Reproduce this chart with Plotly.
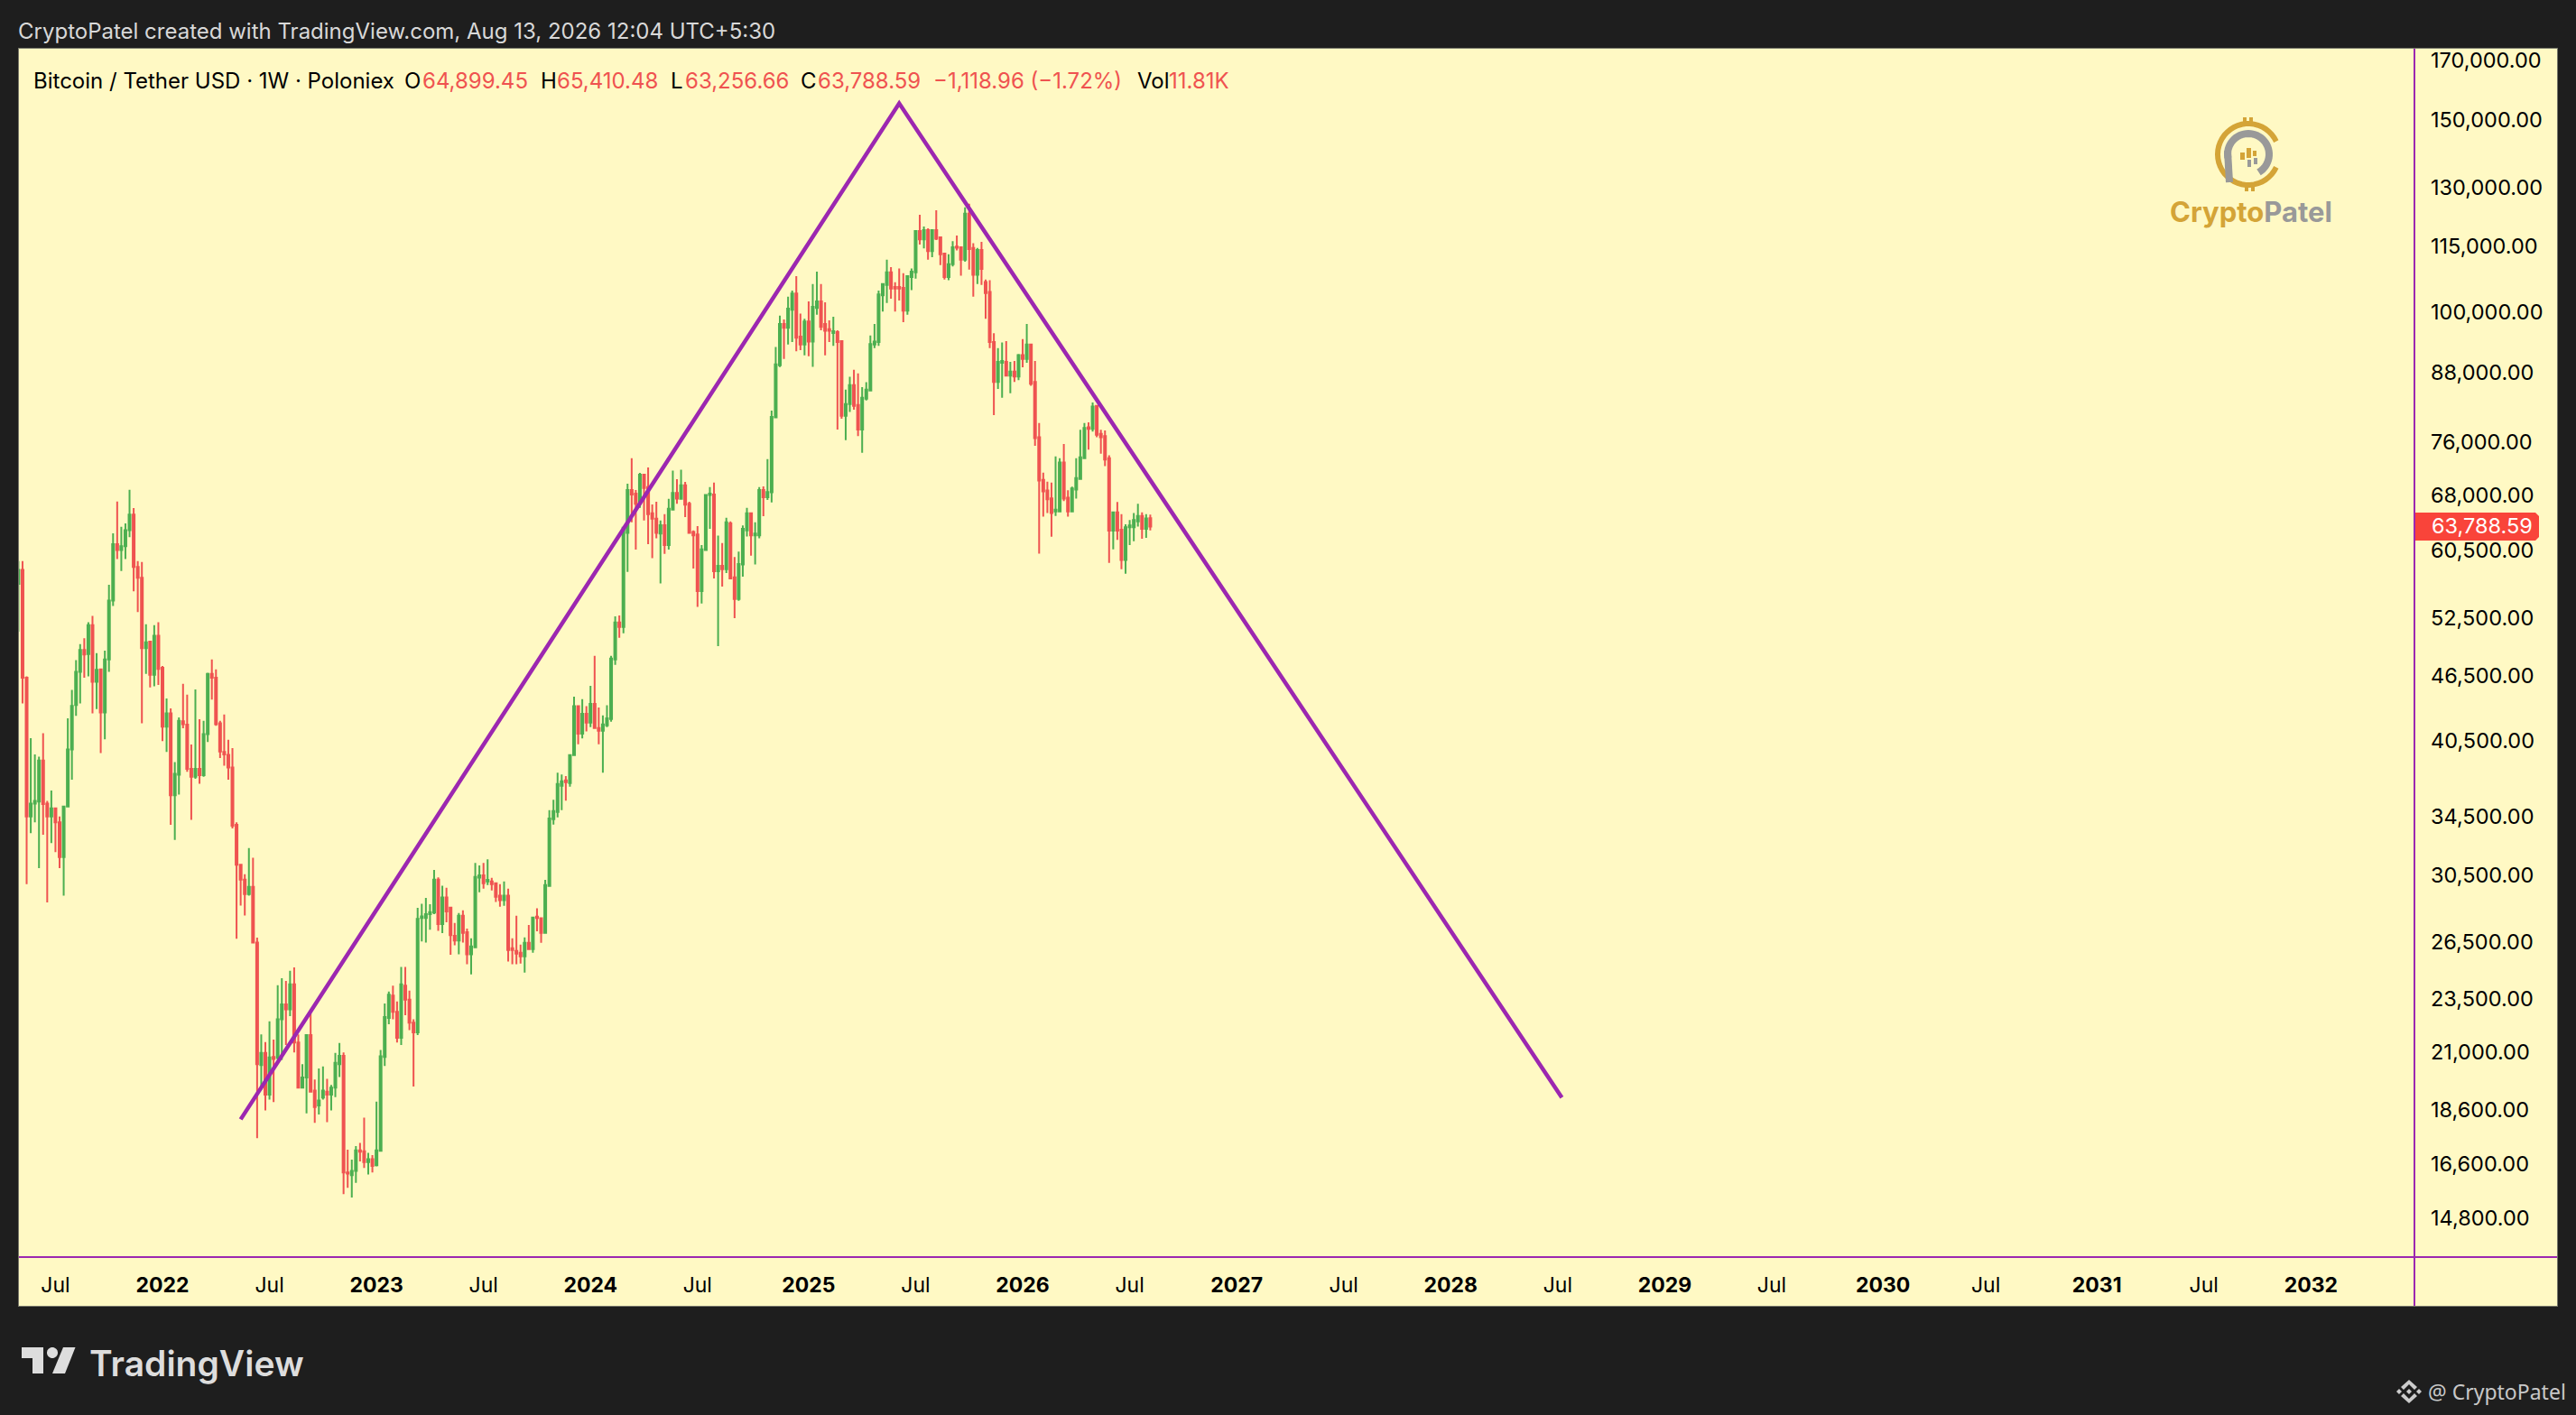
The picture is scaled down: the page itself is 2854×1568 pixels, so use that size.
import math
import numpy as np
import pandas as pd
import plotly.graph_objects as go

# weekly BTCUSDT candles
opens = [
    56540, 58220, 46400, 34670, 35620, 35770, 38990, 35620, 34670, 35260,
    34240, 31830, 35400, 39900, 43820, 46980, 49190, 48780, 51830, 46020,
    47230, 43130, 48220, 54590, 61460, 60700, 61200, 63290, 65410, 58580,
    57260, 49390, 50060, 46690, 50690, 47380, 41860, 43050, 36250, 37840,
    42340, 42040, 38320, 37680, 38320, 37800, 41210, 46790, 46400, 42170,
    39700, 39450, 38430, 34060, 31310, 30350, 29440, 29890, 26580, 20550,
    21080, 19310, 20900, 20860, 22620, 23340, 23100, 24350, 21540, 19590,
    20020, 21880, 19470, 18870, 19190, 19430, 19310, 19590, 20590, 20950,
    16390, 16300, 16450, 17170, 17140, 16750, 16860, 16640, 17160, 20900,
    22690, 23780, 22980, 21760, 24280, 23580, 22460, 22010, 28000, 28000,
    28230, 28320, 30350, 27640, 29230, 28620, 26970, 26700, 28130, 27170,
    25940, 26320, 30480, 30630, 30230, 30230, 30120, 29340, 29060, 29340,
    26270, 26120, 26020, 25830, 26570, 26220, 28080, 27990, 27130, 29950,
    34460, 34990, 36970, 37390, 37180, 39440, 43710, 41250, 43020, 42220,
    43930, 41750, 41510, 41980, 42540, 48220, 52120, 51630, 62950, 68890,
    68370, 66920, 71130, 69290, 65580, 64840, 62840, 63960, 61360, 66080,
    68450, 67600, 69570, 66910, 63070, 62720, 55690, 60700, 68150, 68240,
    58070, 58740, 58300, 64220, 57310, 54760, 58900, 63270, 65580, 62600,
    62600, 68890, 67850, 68540, 80240, 89540, 97680, 96890, 100630, 104140,
    95090, 93550, 98200, 94140, 101000, 102440, 97680, 96600, 95850, 96030,
    94210, 80500, 82540, 85890, 82380, 78230, 83470, 84900, 93550, 94030,
    103740, 106020, 108870, 105600, 105600, 105400, 100440, 107800, 108870, 118770,
    116700, 118970, 113850, 118970, 117200, 113280, 107800, 110750, 114960, 114800,
    111800, 123170, 114600, 108300, 114100, 106680, 104460, 94030, 86450, 90010,
    90180, 87620, 88360, 87440, 91490, 90730, 93550, 86450, 76980, 70360,
    68820, 67670, 65840, 65840, 72990, 67780, 65840, 68950, 70500, 73650,
    78580, 78330, 82230, 77530, 77150, 73650, 63240, 65720, 63350, 59450,
    63700, 63700, 64470, 65220, 63480, 64899.45,
]
highs = [
    59310, 59310, 46550, 40860, 39490, 39300, 41290, 35810, 36600, 35330,
    34670, 35400, 42610, 45230, 48170, 49800, 50420, 52150, 52850, 48880,
    47280, 49140, 56420, 62890, 67220, 63750, 64220, 68900, 66310, 59310,
    59190, 51930, 50110, 51830, 52150, 47580, 44420, 43510, 38870, 42700,
    45820, 44790, 40320, 45280, 42520, 42390, 46890, 48220, 47230, 42390,
    42950, 40740, 40030, 34240, 31310, 30700, 32430, 31780, 26870, 21920,
    21570, 22530, 21680, 24300, 24660, 24530, 25050, 25230, 21920, 20590,
    21880, 22930, 19930, 20400, 20490, 19960, 19710, 21080, 21520, 21100,
    17200, 16840, 17330, 17440, 18400, 17080, 17000, 19030, 21210, 23390,
    23980, 24280, 23490, 25260, 25260, 24030, 22620, 28600, 28850, 29200,
    28820, 30980, 30500, 29970, 29830, 28620, 27710, 28290, 28450, 27380,
    26830, 31440, 31270, 31440, 31680, 30460, 30120, 30060, 30230, 29780,
    26830, 28130, 26470, 26880, 27590, 28080, 28570, 28030, 30340, 35120,
    35900, 38000, 37860, 37740, 39440, 44600, 43790, 44360, 43710, 45630,
    48590, 43600, 42880, 43790, 48590, 52810, 52910, 63620, 69800, 73630,
    68890, 71400, 71130, 72220, 66830, 67200, 64600, 65460, 67600, 71740,
    70470, 71900, 70080, 67200, 63270, 63850, 61360, 68240, 69290, 69970,
    62590, 61600, 64960, 64470, 59820, 60500, 63930, 66330, 65580, 64350,
    69290, 69420, 73490, 81400, 93040, 99400, 98620, 103470, 104770, 108030,
    99810, 98750, 102440, 106240, 109060, 106240, 102250, 98440, 99190, 96400,
    94210, 85060, 87410, 88700, 88020, 85530, 86430, 95340, 97680, 104770,
    106450, 111800, 110090, 106640, 109760, 108670, 108230, 109760, 118970, 122910,
    119910, 119440, 118970, 124080, 117400, 113490, 113090, 116280, 117620, 115000,
    124850, 125780, 115760, 114600, 116090, 107270, 107090, 95800, 92820, 93960,
    94210, 90180, 90380, 91680, 94600, 97680, 93550, 90380, 79290, 71440,
    70090, 69950, 73930, 73650, 75890, 68830, 69380, 73650, 78200, 79290,
    79430, 82790, 82230, 78200, 78080, 74090, 65720, 67180, 65460, 64090,
    64660, 65610, 66920, 65720, 65460, 65410.48,
]
lows = [
    51120, 43960, 30060, 33460, 34240, 31090, 33350, 28930, 32770, 32160,
    31090, 29350, 35330, 37450, 42830, 43960, 46400, 46550, 43050, 43450,
    39610, 40780, 46980, 53960, 59570, 58100, 59570, 62380, 55670, 53280,
    42170, 46790, 45480, 45580, 45720, 40620, 39700, 34060, 32990, 36290,
    41730, 38080, 34420, 37530, 37130, 37680, 40530, 44320, 41950, 39200,
    38560, 37450, 33800, 26800, 28740, 28150, 29350, 26580, 17620, 19510,
    18680, 19110, 19010, 20770, 20770, 21430, 22770, 21100, 19610, 19570,
    18560, 19390, 18200, 18520, 19110, 18220, 18680, 19210, 20040, 15660,
    15870, 15550, 16040, 16780, 16550, 16320, 16390, 16600, 17160, 20510,
    22390, 22620, 21540, 21430, 22820, 22110, 19640, 21890, 26650, 26590,
    27320, 28230, 27250, 27120, 27750, 25910, 26440, 25940, 26590, 25400,
    24870, 26320, 29550, 29780, 30000, 29670, 28950, 28670, 28730, 25550,
    25400, 25400, 25440, 24960, 26170, 26020, 27220, 26570, 27130, 29890,
    34070, 34590, 35130, 35830, 36900, 39360, 40340, 40850, 41450, 41820,
    41750, 40340, 38000, 41820, 42300, 47680, 50470, 50950, 57970, 64350,
    60770, 66330, 64600, 61470, 59670, 62220, 56590, 60220, 60770, 66080,
    66910, 67600, 65080, 62950, 58400, 53880, 54240, 60700, 63490, 57200,
    49590, 56220, 57850, 57200, 52600, 54550, 57400, 62470, 59990, 58900,
    62220, 65200, 67470, 67120, 80240, 89210, 90730, 93550, 94030, 92220,
    92460, 91460, 91280, 89270, 99600, 96400, 91460, 94030, 93300, 78230,
    80040, 76510, 81180, 81570, 77150, 74480, 83150, 84900, 92820, 93300,
    100240, 102060, 103020, 100240, 102630, 98040, 99600, 104890, 107460, 115420,
    114500, 111800, 112420, 116530, 110570, 107260, 107090, 110250, 114000, 108090,
    111320, 109500, 103450, 106250, 106040, 98750, 92820, 80640, 85210, 83630,
    87440, 84450, 86450, 86800, 89150, 90010, 85770, 75600, 60260, 65120,
    65610, 62420, 65220, 65840, 67300, 65120, 65840, 67650, 70500, 73650,
    74990, 77880, 76980, 74360, 72440, 59100, 60800, 62010, 58310, 57750,
    61350, 61840, 63790, 62160, 62280, 63256.66,
]
closes = [
    58220, 46400, 34670, 35620, 35810, 38990, 35580, 34670, 35260, 34240,
    31830, 35400, 39900, 43730, 46980, 49190, 48730, 51830, 46020, 47180,
    43130, 48220, 54590, 61460, 60700, 61200, 63290, 65410, 58580, 57260,
    49390, 50010, 46690, 50690, 47280, 41860, 43050, 36250, 37920, 42390,
    42080, 38320, 37680, 38320, 37800, 41210, 46790, 46400, 42080, 39740,
    39490, 38430, 34000, 31310, 30350, 29440, 29890, 26580, 20590, 21080,
    19310, 20880, 20810, 22620, 23340, 23100, 24350, 21540, 19590, 20020,
    21880, 19430, 18810, 19070, 19470, 19310, 19590, 20640, 20950, 16390,
    16350, 16450, 17170, 17120, 16750, 16860, 16620, 17170, 20930, 22730,
    23830, 22980, 21760, 24350, 23580, 22460, 22010, 27950, 28090, 28230,
    28350, 30350, 27640, 29230, 28380, 27000, 26700, 28130, 27140, 25940,
    26370, 30520, 30630, 30120, 30340, 30060, 29280, 29060, 29340, 26170,
    26170, 25970, 25830, 26570, 26220, 28030, 28000, 27130, 30000, 34520,
    35060, 37110, 37320, 37250, 39440, 43710, 41250, 43020, 42220, 43930,
    41750, 41510, 42060, 42620, 48310, 52120, 51630, 63620, 68890, 68240,
    66920, 71130, 69160, 65460, 64840, 62950, 63960, 61360, 66210, 68450,
    67640, 69570, 66790, 62950, 62600, 55690, 60800, 68150, 68370, 58070,
    58740, 58300, 64350, 57200, 54760, 58950, 63490, 65580, 62600, 62840,
    68890, 67850, 68580, 80340, 89700, 97680, 96890, 100900, 104140, 94900,
    93550, 98200, 94140, 101270, 102440, 97070, 96280, 96280, 96220, 94030,
    80500, 82540, 85890, 82230, 78230, 83630, 85060, 93620, 94140, 103940,
    106240, 108870, 105210, 105210, 105210, 100440, 108030, 109060, 118770, 116700,
    118970, 113850, 118970, 116890, 113090, 107800, 110750, 114800, 114680, 111800,
    123170, 114330, 108300, 114100, 109670, 104240, 94030, 86450, 90180, 90380,
    87620, 88360, 87440, 91490, 90730, 93550, 86120, 76830, 70280, 68690,
    67540, 65610, 66090, 72990, 67650, 65840, 69120, 70630, 73790, 78480,
    78330, 82110, 77380, 76980, 73440, 63240, 65720, 63240, 59450, 63700,
    63940, 64660, 65220, 63480, 64890, 63788.59,
]
last_week = '2026-08-10'

# purple drawing: up from the 2022 low, peak, then down to 2028
trend_dates = ['2022-05-16', '2025-06-09', '2028-07-10']
trend_prices = [18330, 155330, 19190]

price_ticks = [170000, 150000, 130000, 115000, 100000, 88000, 76000, 68000, 60500, 52500,
               46500, 40500, 34500, 30500, 26500, 23500, 21000, 18600, 16600, 14800]
time_ticks = ['2021-07-05', '2022-01-03', '2022-07-04', '2023-01-02', '2023-07-03', '2024-01-01',
              '2024-07-01', '2025-01-06', '2025-07-07', '2026-01-05', '2026-07-06', '2027-01-04',
              '2027-07-05', '2028-01-03', '2028-07-03', '2029-01-01', '2029-07-02', '2030-01-07',
              '2030-07-01', '2031-01-06', '2031-07-07', '2032-01-05']
time_labels = ['Jul', '2022', 'Jul', '2023', 'Jul', '2024', 'Jul', '2025', 'Jul', '2026', 'Jul',
               '2027', 'Jul', '2028', 'Jul', '2029', 'Jul', '2030', 'Jul', '2031', 'Jul', '2032']

DARK = '#1e1e1e'
PANEL = '#fff9c4'
GREEN = '#4caf50'
RED = '#ef5350'
PURPLE = '#9c27b0'
GOLD = '#d4a437'
GREY = '#999999'
FONT = 'Inter'

W, H = 2854, 1568
LEFT, RIGHT, TOP, BOTTOM = 21, 2675, 54, 1392     # price pane
PANEL_R, PANEL_B = 2833, 1447
# px per log unit of the price axis, 150,000 sits at y=133
AXIS_SCALE = 525.4
# the candles were first read against a rule of 526.8, so bring them onto the axis
READ_SCALE = 526.8


def recal(prices):
    return [150000 * (p / 150000) ** (READ_SCALE / AXIS_SCALE) for p in prices]


def px(x):
    return (x - LEFT) / (RIGHT - LEFT)


def py(y):
    return (BOTTOM - y) / (BOTTOM - TOP)


def poly(points, close=True):
    path = 'M' + ' L'.join(f'{px(x)},{py(y)}' for x, y in points)
    return path + (' Z' if close else '')


def arc(cx, cy, r, start, end, steps=40):
    pts = []
    for i in range(steps + 1):
        a = math.radians(start + (end - start) * i / steps)
        pts.append((cx + r * math.cos(a), cy - r * math.sin(a)))
    return pts


def rect(x0, y0, x1, y1, fill, layer='above'):
    return dict(type='rect', xref='paper', yref='paper', x0=px(x0), x1=px(x1), y0=py(y1), y1=py(y0),
                fillcolor=fill, line_width=0, layer=layer)


def shape_path(path, fill=None, line=None, width=0):
    return dict(type='path', xref='paper', yref='paper', path=path, fillcolor=fill or 'rgba(0,0,0,0)',
                line=dict(color=line or 'rgba(0,0,0,0)', width=width), layer='above')


def label(x, y, text, color='#000000', size=24, font=FONT, anchor='left', weight='normal'):
    return dict(xref='paper', yref='paper', x=px(x), y=py(y), text=text, showarrow=False,
                xanchor=anchor, yanchor='middle', font=dict(family=font, size=size, color=color, weight=weight))


weeks = pd.date_range(end=last_week, periods=len(closes), freq='7D')

# 4.56 px per week, 2022-01-03 sits at x=180
base = pd.Timestamp('2022-01-03')
x_range = [str(base + pd.Timedelta(weeks=(LEFT - 180) / 4.56)),
           str(base + pd.Timedelta(weeks=(RIGHT - 180) / 4.56))]
y_range = [np.log10(150000 * math.exp((133 - BOTTOM) / AXIS_SCALE)),
           np.log10(150000 * math.exp((133 - TOP) / AXIS_SCALE))]

fig = go.Figure()
fig.add_trace(go.Candlestick(
    x=weeks, open=recal(opens), high=recal(highs), low=recal(lows), close=recal(closes), whiskerwidth=0,
    increasing=dict(line=dict(color=GREEN, width=2), fillcolor=GREEN),
    decreasing=dict(line=dict(color=RED, width=2), fillcolor=RED),
    showlegend=False))
fig.add_trace(go.Scatter(x=trend_dates, y=recal(trend_prices), mode='lines',
                         line=dict(color=PURPLE, width=4.5), showlegend=False))

shapes = [
    rect(LEFT - 1, TOP - 1, PANEL_R + 1, PANEL_B + 1, '#77776a', 'below'),
    rect(LEFT, TOP, PANEL_R, PANEL_B, PANEL, 'below'),
    rect(LEFT, BOTTOM, PANEL_R, BOTTOM + 2, PURPLE),
    rect(RIGHT - 1, TOP, RIGHT + 1, PANEL_B, PURPLE),
    # last price tag
    shape_path(poly([(RIGHT + 1, 568), (2809, 568), (2813, 572), (2813, 595), (2809, 599), (RIGHT + 1, 599)]),
               fill='#f9443a'),
    # TradingView mark
    shape_path(poly([(24, 1493), (48, 1493), (48, 1522), (36, 1522), (36, 1505), (24, 1505)]), fill='#dddddd'),
    shape_path(poly(arc(58, 1499, 6, 0, 360)), fill='#dddddd'),
    shape_path(poly([(70, 1493), (83.5, 1493), (72, 1522), (58, 1522)]), fill='#dddddd'),
    # exchange mark, bottom right
    shape_path(poly([(2669, 1529), (2678, 1537), (2675, 1540), (2669, 1534), (2663, 1540), (2660, 1537)]), fill='#cccccc'),
    shape_path(poly([(2669, 1555), (2678, 1547), (2675, 1544), (2669, 1550), (2663, 1544), (2660, 1547)]), fill='#cccccc'),
    shape_path(poly([(2669, 1539), (2672, 1542), (2669, 1545), (2666, 1542)]), fill='#cccccc'),
    shape_path(poly([(2658, 1539), (2661, 1542), (2658, 1545), (2655, 1542)]), fill='#cccccc'),
    shape_path(poly([(2680, 1539), (2683, 1542), (2680, 1545), (2677, 1542)]), fill='#cccccc'),
    # logo, top right
    shape_path(poly(arc(2491, 171, 34, 25, 335), close=False), line=GOLD, width=6),
    shape_path(poly(arc(2491, 171, 23, -60, 190), close=False), line=GREY, width=8),
    shape_path(poly([(2468, 167), (2470, 202)], close=False), line=GREY, width=8),
    rect(2485, 130, 2489, 137, GOLD),
    rect(2492, 130, 2496, 137, GOLD),
    rect(2487, 207, 2491, 212, GOLD),
    rect(2494, 207, 2498, 212, GOLD),
    rect(2482, 169, 2487, 177, GOLD),
    rect(2489, 164, 2494, 175, GOLD),
    rect(2496, 167, 2500, 173, GOLD),
    rect(2490, 177, 2494, 185, GREY),
    rect(2497, 175, 2501, 182, GREY),
]

annotations = [
    label(18, 35, 'CryptoPatel created with TradingView.com, Aug 13, 2026 12:04 UTC+5:30', '#d8d8d8', 24),
    label(35, 90, 'Bitcoin / Tether USD · 1W · Poloniex'),
    label(446, 90, 'O'),
    label(466, 90, '64,899.45', RED),
    label(597, 90, 'H'),
    label(615, 90, '65,410.48', RED),
    label(741, 90, 'L'),
    label(757, 90, '63,256.66', RED),
    label(885, 90, 'C'),
    label(904, 90, '63,788.59', RED),
    label(1032, 90, '−1,118.96 (−1.72%)', RED),
    label(1258, 90, 'Vol'),
    label(1293, 90, '11.81K', RED),
    label(2692, 583, '63,788.59', '#ffffff', 23.5),
    label(2402, 235, '<b><span style="color:#d4a437">Crypto</span><span style="color:#999999">Patel</span></b>', size=31),
    label(97, 1510, 'TradingView', '#dddddd', 39, weight=600),
    label(2688, 1542, '@ CryptoPatel', '#c8c8c8', 23, 'Noto Sans'),
]

fig.update_layout(
    width=W, height=H,
    margin=dict(l=LEFT, r=W - RIGHT, t=TOP, b=H - BOTTOM, pad=0),
    paper_bgcolor=DARK, plot_bgcolor=PANEL,
    boxgap=0.37,
    shapes=shapes, annotations=annotations,
    xaxis=dict(type='date', range=x_range, rangeslider=dict(visible=False), showgrid=False, zeroline=False,
               showline=False, tickmode='array', tickvals=time_ticks,
               ticktext=[t if t == 'Jul' else f'<b>{t}</b>' for t in time_labels],
               ticks='', ticklabelstandoff=16, tickangle=0,
               tickfont=dict(family=FONT, size=23, color='#000000')),
    yaxis=dict(type='log', range=y_range, side='right', showgrid=False, zeroline=False, showline=False,
               tickmode='array', tickvals=price_ticks, ticktext=[f'{p:,.2f}' for p in price_ticks],
               ticks='', ticklabelstandoff=17, tickfont=dict(family=FONT, size=23.5, color='#000000')),
)

fig.write_html("out.html", config=dict(displayModeBar=False),
               post_script="document.body.style.margin='0';")
